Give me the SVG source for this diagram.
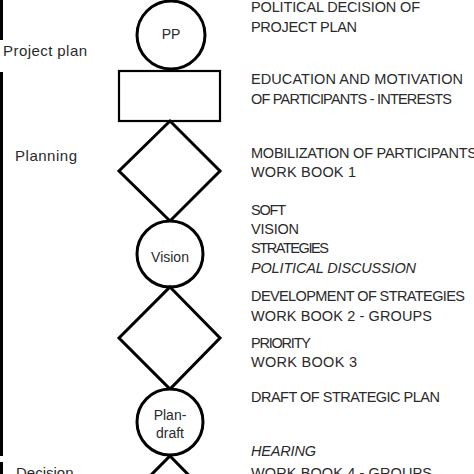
<svg xmlns="http://www.w3.org/2000/svg" width="474" height="474" viewBox="0 0 474 474">
<style>
.shape{fill:#fff;stroke:#000;stroke-width:3}
.rect{fill:#fff;stroke:#000;stroke-width:2.2}
.conn{stroke:#000;stroke-width:3;fill:none}
.bar{stroke:#000;stroke-width:3}
.lbl{font-family:"Liberation Sans",Arial,sans-serif;font-size:15px;fill:#2a2a2a}
.node{font-family:"Liberation Sans",Arial,sans-serif;font-size:14px;fill:#2a2a2a;text-anchor:middle}
.desc{font-family:"Liberation Sans",Arial,sans-serif;font-size:14.5px;fill:#2a2a2a}
.it{font-style:italic}
</style>
<rect width="474" height="474" fill="#fff"/>
<g id="phase-bar">
<line class="bar" x1="1.5" y1="0" x2="1.5" y2="40"/>
<line class="bar" x1="1.5" y1="72" x2="1.5" y2="456"/>
<line class="bar" x1="1.5" y1="462" x2="1.5" y2="474"/>
<text class="lbl" x="3" y="56" textLength="84">Project plan</text>
<text class="lbl" x="15" y="161" textLength="62">Planning</text>
<text class="lbl" x="16" y="478">Decision</text>
</g>
<g id="connectors">
<line class="conn" x1="170" y1="-4" x2="170" y2="2"/>
<line class="conn" x1="170" y1="68" x2="170" y2="72"/>
</g>
<g id="pp">
<circle class="shape" cx="171" cy="35" r="34"/>
<text class="node" x="171" y="39">PP</text>
</g>
<g id="education">
<rect class="rect" x="119" y="71" width="101" height="50"/>
</g>
<g id="mobilization">
<polygon class="shape" points="170,121 220,171 170,221 119,171"/>
</g>
<g id="vision">
<circle class="shape" cx="170" cy="254" r="33"/>
<text class="node" x="170" y="262">Vision</text>
</g>
<g id="development">
<polygon class="shape" points="170,287 220,338 170,389 119,338"/>
</g>
<g id="plandraft">
<circle class="shape" cx="170" cy="422" r="33"/>
<text class="node" x="170" y="420">Plan-</text>
<text class="node" x="170" y="438">draft</text>
</g>
<g id="hearing">
<polygon class="shape" points="170,456 220,507 170,558 119,507"/>
</g>
<g id="descriptions">
<text class="desc" x="251" y="12" textLength="169">POLITICAL DECISION OF</text>
<text class="desc" x="251" y="32" textLength="106">PROJECT PLAN</text>
<text class="desc" x="251" y="84" textLength="212">EDUCATION AND MOTIVATION</text>
<text class="desc" x="251" y="104" textLength="201">OF PARTICIPANTS - INTERESTS</text>
<text class="desc" x="251" y="158" textLength="226">MOBILIZATION OF PARTICIPANTS</text>
<text class="desc" x="251" y="177" textLength="105">WORK BOOK 1</text>
<text class="desc" x="251" y="215" textLength="35">SOFT</text>
<text class="desc" x="251" y="234" textLength="48">VISION</text>
<text class="desc" x="251" y="253" textLength="78">STRATEGIES</text>
<text class="desc it" x="251" y="273" textLength="165">POLITICAL DISCUSSION</text>
<text class="desc" x="251" y="301" textLength="214">DEVELOPMENT OF STRATEGIES</text>
<text class="desc" x="251" y="321" textLength="181">WORK BOOK 2 - GROUPS</text>
<text class="desc" x="251" y="348" textLength="60">PRIORITY</text>
<text class="desc" x="251" y="367" textLength="106">WORK BOOK 3</text>
<text class="desc" x="251" y="402" textLength="189">DRAFT OF STRATEGIC PLAN</text>
<text class="desc it" x="251" y="456" textLength="65">HEARING</text>
<text class="desc" x="251" y="478" textLength="181">WORK BOOK 4 - GROUPS</text>
</g>
</svg>
